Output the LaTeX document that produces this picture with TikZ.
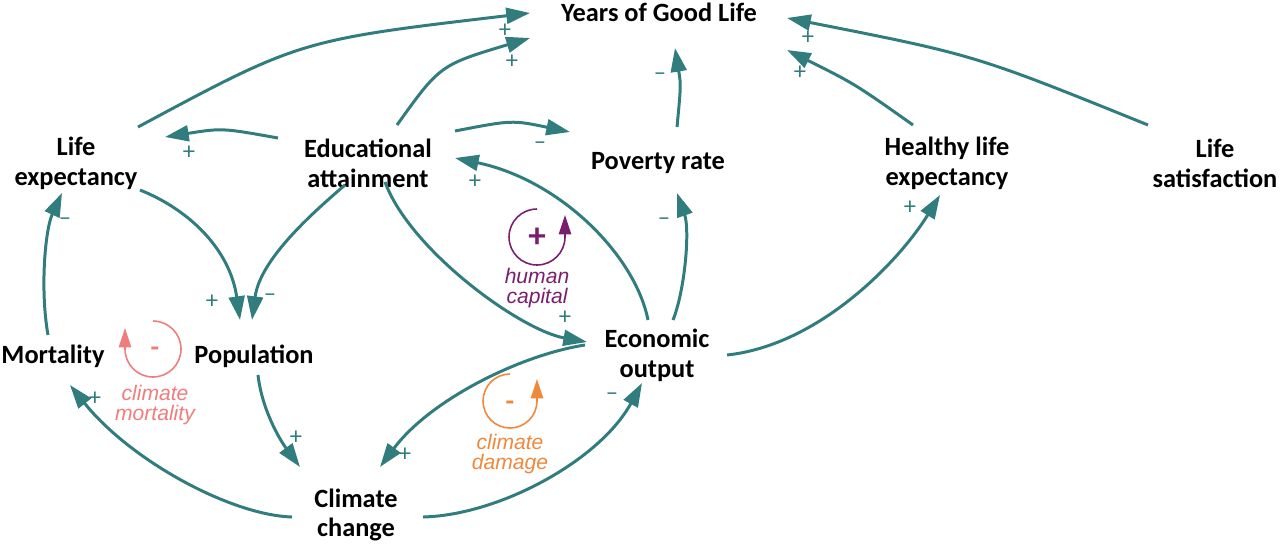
\documentclass[tikz,border=0pt]{standalone}
\usepackage{fontspec}
\setmainfont{Carlito}
\newfontfamily\loopfont{Liberation Sans}
\usetikzlibrary{arrows.meta, calc}

\definecolor{teal}{RGB}{49,125,125}
\definecolor{humancol}{RGB}{122,30,110}
\definecolor{mortcol}{RGB}{240,124,124}
\definecolor{damagecol}{RGB}{240,136,60}

\begin{document}
\begin{tikzpicture}[x=0.02cm, y=0.02cm,
    var/.style={font=\fontsize{15}{17}\selectfont\bfseries, align=center, inner sep=0pt},
    link/.style={teal, line width=1.7pt, -{Triangle[length=13.5pt, width=9pt]}},
    sign/.style={teal, font=\fontsize{14}{14}\selectfont, inner sep=0pt},
    looplabel/.style={font=\loopfont\itshape\fontsize{12}{11.6}\selectfont, align=center, inner sep=0pt},
    looparrow/.style={line width=0.9pt, -{Triangle[length=11pt, width=7pt]}}]
    \useasboundingbox (0,0) rectangle (1280,-545);

    % Variables
    \node[var] (yogl) at (659,-12)  {Years of Good Life};
    \node[var] (le)   at (76,-163)  {Life\\expectancy};
    \node[var] (edu)  at (368,-163) {Educational\\attainment};
    \node[var] (pov)  at (658,-163) {Poverty rate};
    \node[var] (hle)  at (947,-163) {Healthy life\\expectancy};
    \node[var] (ls)   at (1215,-163) {Life\\satisfaction};
    \node[var] (mort) at (53,-356)  {Mortality};
    \node[var] (pop)  at (254,-356) {Population};
    \node[var] (econ) at (657,-355) {Economic\\output};
    \node[var] (cc)   at (356,-515) {Climate\\change};

    % Links into Years of Good Life
    \draw[link] ($(le)+(62,36)$) .. controls (300,-40) .. ($(yogl)+(-129,-1)$);
    \draw[link] ($(edu)+(29,38)$) .. controls (440,-65) .. ($(yogl)+(-129,-26)$);
    \draw[link] ($(pov)+(19,36)$) .. controls (681,-85) .. ($(yogl)+(16,-36)$);
    \draw[link] ($(hle)+(-34,38)$) .. controls (855,-84) .. ($(yogl)+(128,-38)$);
    \draw[link] ($(ls)+(-67,38)$) .. controls (975,-55) .. ($(yogl)+(128,-6)$);

    % Education links
    \draw[link] ($(edu)+(-90,25)$) .. controls (222,-128) .. ($(le)+(89,26)$);
    \draw[link] ($(edu)+(87,32)$) .. controls (512,-120) .. ($(pov)+(-88,31)$);
    \draw[link] ($(econ)+(-9,35)$) .. controls (635,-255) and (560,-180) .. ($(edu)+(87,5)$);
    \draw[link] ($(edu)+(17,-19)$) .. controls (410,-250) and (520,-330) .. ($(econ)+(-70,13)$);
    \draw[link] ($(edu)+(-23,-22)$) .. controls (310,-215) and (260,-260) .. ($(pop)+(-2,36)$);

    % Population and mortality
    \draw[link] ($(le)+(64,-27)$) .. controls (190,-210) and (230,-250) .. ($(pop)+(-14,36)$);
    \draw[link] ($(mort)+(-5,21)$) .. controls (40,-290) and (45,-230) .. ($(le)+(-14,-30)$);
    \draw[link] ($(pop)+(4,-19)$) .. controls (262,-410) and (280,-440) .. ($(cc)+(-56,48)$);
    \draw[link] ($(cc)+(-64,-2)$) .. controls (230,-515) and (130,-460) .. ($(mort)+(17,-29)$);

    % Economic output
    \draw[link] ($(econ)+(16,35)$) .. controls (685,-290) and (690,-230) .. ($(pov)+(19,-30)$);
    \draw[link] ($(econ)+(70,0)$) .. controls (820,-345) and (900,-260) .. ($(hle)+(-7,-32)$);
    \draw[link] ($(econ)+(-72,10)$) .. controls (520,-355) and (430,-400) .. ($(cc)+(24,48)$);
    \draw[link] ($(cc)+(67,-2)$) .. controls (500,-515) and (600,-460) .. ($(econ)+(-15,-28)$);

    % Polarities
    \foreach \x/\y/\s [count=\i] in {505/31/+, 512/62/+, 660/77/–, 800/73/+, 808/38/+,
        189/153/+, 540/146/–, 475/182/+, 565/318/+, 270/298/–, 212/302/+, 65/222/–,
        664/222/–, 910/208/+, 296/438/+, 95/399/+, 405/455/+, 612/397/–}
        \node[sign] (s\i) at (\x,-\y) {\s};

    % Loop: human capital
    \draw[humancol, looparrow] (537,-209) arc (90:360:28) -- ++(0,22);
    \node[humancol, font=\fontsize{20}{20}\selectfont\bfseries] (hcsign) at (537,-238) {+};
    \node[humancol, looplabel] (hclabel) at (537,-288) {human\\capital};

    % Loop: climate mortality
    \draw[mortcol, looparrow] (153,-321) arc (90:-180:28) -- ++(0,21);
    \node[mortcol, font=\fontsize{16}{16}\selectfont\bfseries] (cmsign) at (155,-352) {-};
    \node[mortcol, looplabel] (cmlabel) at (155,-405) {climate\\mortality};

    % Loop: climate damage
    \draw[damagecol, looparrow] (510,-374) arc (90:360:27) -- ++(0,22);
    \node[damagecol, font=\fontsize{16}{16}\selectfont\bfseries] (cdsign) at (510,-406) {-};
    \node[damagecol, looplabel] (cdlabel) at (510,-454) {climate\\damage};
\end{tikzpicture}
\end{document}
